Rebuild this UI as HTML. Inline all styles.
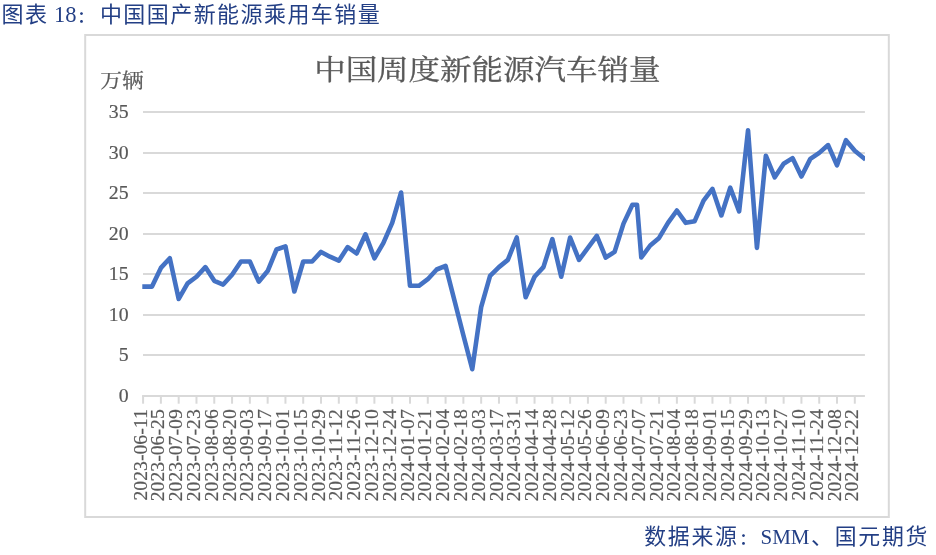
<!DOCTYPE html>
<html lang="zh-CN">
<head>
<meta charset="utf-8">
<title>图表 18：中国国产新能源乘用车销量</title>
<style>
html,body{margin:0;padding:0;background:#fff;}
body{width:936px;height:555px;position:relative;overflow:hidden;}
.cap{position:absolute;left:1.5px;top:-2.4px;margin:0;white-space:nowrap;color:#233f85;
 font-family:"Liberation Serif","Noto Sans CJK SC",sans-serif;font-size:22.5px;line-height:34px;font-weight:400;}
.cap .cj{font-family:"Liberation Sans","Noto Sans CJK SC","WenQuanYi Zen Hei",sans-serif;font-size:22px;letter-spacing:1.44px;}
.src{position:absolute;right:6.9px;top:519.6px;margin:0;white-space:nowrap;color:#233f85;
 font-family:"Liberation Serif","Noto Sans CJK SC",sans-serif;font-size:21px;line-height:34px;font-weight:400;}
.src .cj{font-family:"Liberation Sans","Noto Sans CJK SC","WenQuanYi Zen Hei",sans-serif;font-size:21.9px;letter-spacing:1.72px;}
.cap .co,.src .co{display:inline-block;width:23.4px;font-size:15px;letter-spacing:0;text-indent:1.2px;font-weight:700;}
.src .la{position:relative;left:-1.5px;}
svg{position:absolute;left:0;top:0;}
.num{font-family:"Liberation Serif",serif;font-size:19.75px;fill:#595959;stroke:#595959;stroke-width:0.2px;}
.zh{font-family:"Liberation Serif","Noto Serif CJK SC",serif;fill:#595959;}
</style>
</head>
<body>
<p class="cap"><span class="cj">图表</span> 18<span class="cj co">：</span><span class="cj">中国国产新能源乘用车销量</span></p>
<svg width="936" height="555" viewBox="0 0 936 555">
<rect x="85.2" y="35" width="803.6" height="482" fill="#ffffff" stroke="#d9d9d9" stroke-width="2"/>

<defs><clipPath id="pc"><rect x="142.3" y="100" width="722.7" height="300"/></clipPath></defs>
<g stroke="#d9d9d9" stroke-width="2" fill="none">
<line x1="143.0" y1="355.00" x2="864.9" y2="355.00"/>
<line x1="143.0" y1="315.00" x2="864.9" y2="315.00"/>
<line x1="143.0" y1="274.00" x2="864.9" y2="274.00"/>
<line x1="143.0" y1="234.00" x2="864.9" y2="234.00"/>
<line x1="143.0" y1="193.00" x2="864.9" y2="193.00"/>
<line x1="143.0" y1="153.00" x2="864.9" y2="153.00"/>
<line x1="143.0" y1="112.00" x2="864.9" y2="112.00"/>
<line x1="142.1" y1="396.00" x2="864.9" y2="396.00"/>
<line x1="143.10" y1="396.00" x2="143.10" y2="403.70"/>
<line x1="160.89" y1="396.00" x2="160.89" y2="403.70"/>
<line x1="178.69" y1="396.00" x2="178.69" y2="403.70"/>
<line x1="196.48" y1="396.00" x2="196.48" y2="403.70"/>
<line x1="214.27" y1="396.00" x2="214.27" y2="403.70"/>
<line x1="232.06" y1="396.00" x2="232.06" y2="403.70"/>
<line x1="249.86" y1="396.00" x2="249.86" y2="403.70"/>
<line x1="267.65" y1="396.00" x2="267.65" y2="403.70"/>
<line x1="285.44" y1="396.00" x2="285.44" y2="403.70"/>
<line x1="303.23" y1="396.00" x2="303.23" y2="403.70"/>
<line x1="321.03" y1="396.00" x2="321.03" y2="403.70"/>
<line x1="338.82" y1="396.00" x2="338.82" y2="403.70"/>
<line x1="356.61" y1="396.00" x2="356.61" y2="403.70"/>
<line x1="374.40" y1="396.00" x2="374.40" y2="403.70"/>
<line x1="392.20" y1="396.00" x2="392.20" y2="403.70"/>
<line x1="409.99" y1="396.00" x2="409.99" y2="403.70"/>
<line x1="427.78" y1="396.00" x2="427.78" y2="403.70"/>
<line x1="445.57" y1="396.00" x2="445.57" y2="403.70"/>
<line x1="463.37" y1="396.00" x2="463.37" y2="403.70"/>
<line x1="481.16" y1="396.00" x2="481.16" y2="403.70"/>
<line x1="498.95" y1="396.00" x2="498.95" y2="403.70"/>
<line x1="516.74" y1="396.00" x2="516.74" y2="403.70"/>
<line x1="534.54" y1="396.00" x2="534.54" y2="403.70"/>
<line x1="552.33" y1="396.00" x2="552.33" y2="403.70"/>
<line x1="570.12" y1="396.00" x2="570.12" y2="403.70"/>
<line x1="587.91" y1="396.00" x2="587.91" y2="403.70"/>
<line x1="605.71" y1="396.00" x2="605.71" y2="403.70"/>
<line x1="623.50" y1="396.00" x2="623.50" y2="403.70"/>
<line x1="641.29" y1="396.00" x2="641.29" y2="403.70"/>
<line x1="659.09" y1="396.00" x2="659.09" y2="403.70"/>
<line x1="676.88" y1="396.00" x2="676.88" y2="403.70"/>
<line x1="694.67" y1="396.00" x2="694.67" y2="403.70"/>
<line x1="712.46" y1="396.00" x2="712.46" y2="403.70"/>
<line x1="730.26" y1="396.00" x2="730.26" y2="403.70"/>
<line x1="748.05" y1="396.00" x2="748.05" y2="403.70"/>
<line x1="765.84" y1="396.00" x2="765.84" y2="403.70"/>
<line x1="783.63" y1="396.00" x2="783.63" y2="403.70"/>
<line x1="801.43" y1="396.00" x2="801.43" y2="403.70"/>
<line x1="819.22" y1="396.00" x2="819.22" y2="403.70"/>
<line x1="837.01" y1="396.00" x2="837.01" y2="403.70"/>
<line x1="854.80" y1="396.00" x2="854.80" y2="403.70"/>
</g>
<g class="num" text-anchor="end">
<text x="128.5" y="402.40">0</text>
<text x="128.5" y="361.40">5</text>
<text x="128.5" y="321.40">10</text>
<text x="128.5" y="280.40">15</text>
<text x="128.5" y="240.40">20</text>
<text x="128.5" y="199.40">25</text>
<text x="128.5" y="159.40">30</text>
<text x="128.5" y="118.40">35</text>
</g>
<text class="zh" transform="translate(100.2 80.5) scale(1 0.92)" x="0" y="7.9" font-size="21.7" stroke="#595959" stroke-width="0.25">万辆</text>
<text class="zh" transform="translate(487.3 69) scale(1 0.92)" x="0" y="11.9" font-size="31.5" text-anchor="middle" stroke="#595959" stroke-width="0.35">中国周度新能源汽车销量</text>
<g class="num" text-anchor="end">
<text transform="translate(146.65 409.2) rotate(-90) scale(1 0.94)">2023-06-11</text>
<text transform="translate(164.44 409.2) rotate(-90) scale(1 0.94)">2023-06-25</text>
<text transform="translate(182.24 409.2) rotate(-90) scale(1 0.94)">2023-07-09</text>
<text transform="translate(200.03 409.2) rotate(-90) scale(1 0.94)">2023-07-23</text>
<text transform="translate(217.82 409.2) rotate(-90) scale(1 0.94)">2023-08-06</text>
<text transform="translate(235.61 409.2) rotate(-90) scale(1 0.94)">2023-08-20</text>
<text transform="translate(253.41 409.2) rotate(-90) scale(1 0.94)">2023-09-03</text>
<text transform="translate(271.20 409.2) rotate(-90) scale(1 0.94)">2023-09-17</text>
<text transform="translate(288.99 409.2) rotate(-90) scale(1 0.94)">2023-10-01</text>
<text transform="translate(306.78 409.2) rotate(-90) scale(1 0.94)">2023-10-15</text>
<text transform="translate(324.58 409.2) rotate(-90) scale(1 0.94)">2023-10-29</text>
<text transform="translate(342.37 409.2) rotate(-90) scale(1 0.94)">2023-11-12</text>
<text transform="translate(360.16 409.2) rotate(-90) scale(1 0.94)">2023-11-26</text>
<text transform="translate(377.95 409.2) rotate(-90) scale(1 0.94)">2023-12-10</text>
<text transform="translate(395.75 409.2) rotate(-90) scale(1 0.94)">2023-12-24</text>
<text transform="translate(413.54 409.2) rotate(-90) scale(1 0.94)">2024-01-07</text>
<text transform="translate(431.33 409.2) rotate(-90) scale(1 0.94)">2024-01-21</text>
<text transform="translate(449.12 409.2) rotate(-90) scale(1 0.94)">2024-02-04</text>
<text transform="translate(466.92 409.2) rotate(-90) scale(1 0.94)">2024-02-18</text>
<text transform="translate(484.71 409.2) rotate(-90) scale(1 0.94)">2024-03-03</text>
<text transform="translate(502.50 409.2) rotate(-90) scale(1 0.94)">2024-03-17</text>
<text transform="translate(520.29 409.2) rotate(-90) scale(1 0.94)">2024-03-31</text>
<text transform="translate(538.09 409.2) rotate(-90) scale(1 0.94)">2024-04-14</text>
<text transform="translate(555.88 409.2) rotate(-90) scale(1 0.94)">2024-04-28</text>
<text transform="translate(573.67 409.2) rotate(-90) scale(1 0.94)">2024-05-12</text>
<text transform="translate(591.46 409.2) rotate(-90) scale(1 0.94)">2024-05-26</text>
<text transform="translate(609.26 409.2) rotate(-90) scale(1 0.94)">2024-06-09</text>
<text transform="translate(627.05 409.2) rotate(-90) scale(1 0.94)">2024-06-23</text>
<text transform="translate(644.84 409.2) rotate(-90) scale(1 0.94)">2024-07-07</text>
<text transform="translate(662.64 409.2) rotate(-90) scale(1 0.94)">2024-07-21</text>
<text transform="translate(680.43 409.2) rotate(-90) scale(1 0.94)">2024-08-04</text>
<text transform="translate(698.22 409.2) rotate(-90) scale(1 0.94)">2024-08-18</text>
<text transform="translate(716.01 409.2) rotate(-90) scale(1 0.94)">2024-09-01</text>
<text transform="translate(733.81 409.2) rotate(-90) scale(1 0.94)">2024-09-15</text>
<text transform="translate(751.60 409.2) rotate(-90) scale(1 0.94)">2024-09-29</text>
<text transform="translate(769.39 409.2) rotate(-90) scale(1 0.94)">2024-10-13</text>
<text transform="translate(787.18 409.2) rotate(-90) scale(1 0.94)">2024-10-27</text>
<text transform="translate(804.98 409.2) rotate(-90) scale(1 0.94)">2024-11-10</text>
<text transform="translate(822.77 409.2) rotate(-90) scale(1 0.94)">2024-11-24</text>
<text transform="translate(840.56 409.2) rotate(-90) scale(1 0.94)">2024-12-08</text>
<text transform="translate(858.35 409.2) rotate(-90) scale(1 0.94)">2024-12-22</text>
</g>
<polyline points="143.10,286.60 152.00,286.60 160.89,267.90 169.79,258.30 178.69,298.90 187.58,283.32 196.48,276.76 205.37,267.10 214.27,280.86 223.17,284.55 232.06,274.71 240.96,261.50 249.86,261.50 258.75,281.68 267.65,271.10 276.54,249.50 285.44,246.30 294.34,291.52 303.23,261.50 312.13,261.50 321.03,251.90 329.92,256.70 338.82,260.70 347.71,247.10 356.61,253.50 365.51,234.30 374.40,258.30 383.30,243.10 392.20,222.82 401.09,192.50 409.99,285.78 418.89,285.78 427.78,279.22 436.68,269.50 445.57,265.90 454.47,300.54 463.37,335.30 472.26,369.24 481.16,307.10 490.06,275.94 498.95,267.10 507.85,259.90 516.74,237.50 525.64,297.26 534.54,276.76 543.43,267.10 552.33,239.10 561.23,276.76 570.12,237.50 579.02,259.90 587.91,247.90 596.81,235.90 605.71,257.50 614.60,251.90 623.50,223.64 632.40,204.78 637.02,204.78 641.29,257.50 650.19,245.50 659.09,237.90 667.98,222.82 676.88,210.52 685.77,222.82 694.67,221.18 703.57,200.68 712.46,188.90 721.36,215.44 730.26,187.70 739.15,211.34 748.05,130.34 756.94,247.90 765.84,155.70 774.74,177.30 783.63,163.70 792.53,158.10 801.43,176.50 810.32,158.90 819.22,152.89 828.11,145.10 837.01,165.30 845.91,140.18 854.80,150.84 863.70,158.10" fill="none" stroke="#4472c4" stroke-width="4.6" stroke-linejoin="round" stroke-linecap="square" clip-path="url(#pc)"/>
</svg>
<p class="src"><span class="cj">数据来源</span><span class="cj co">：</span><span class="la">SMM</span><span class="cj">、国元期货</span></p>
</body>
</html>
